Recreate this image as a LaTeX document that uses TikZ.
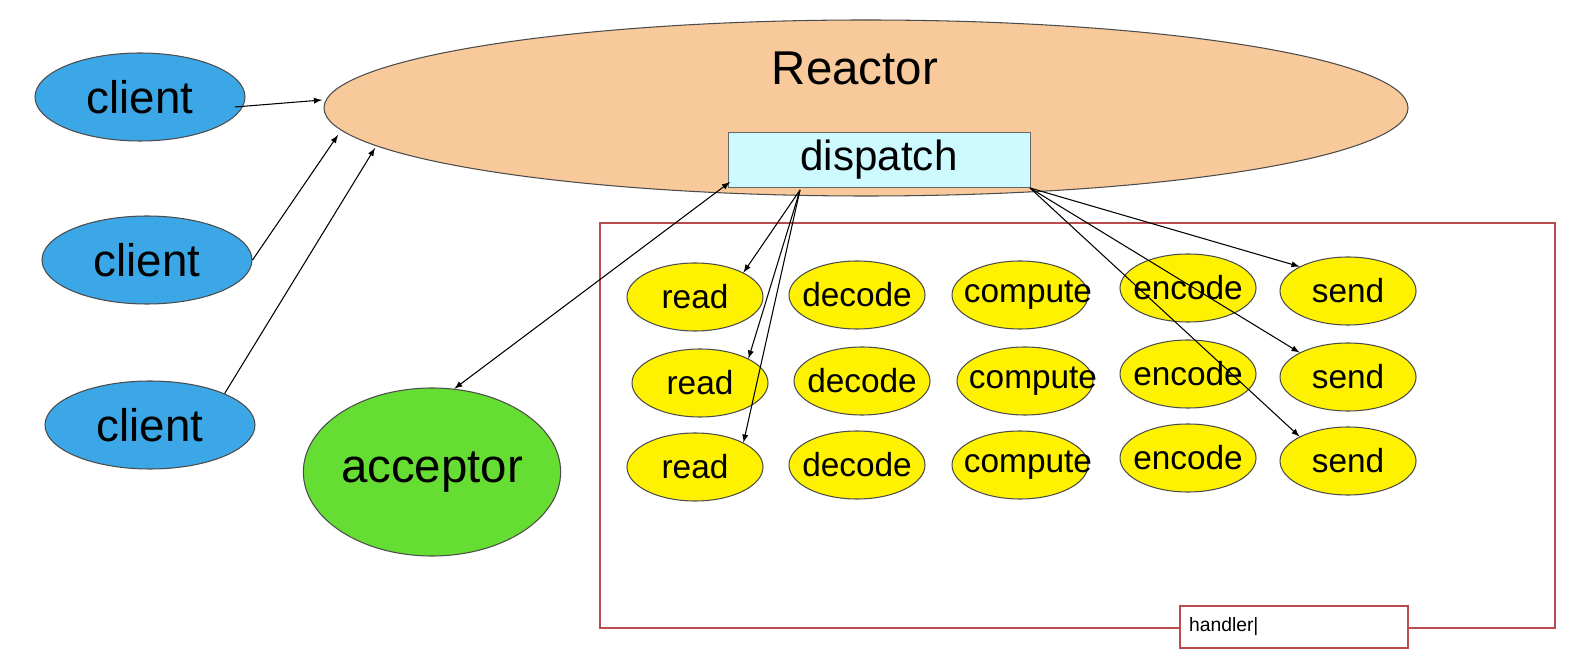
\documentclass[tikz,border=0pt]{standalone}
\usepackage{fontspec}
\setmainfont{Liberation Sans}
\usetikzlibrary{shapes.geometric}
\definecolor{cblue}{HTML}{3BA7E6}
\definecolor{agreen}{HTML}{66DD33}
\definecolor{dcyan}{HTML}{CCFAFF}
\definecolor{rpeach}{HTML}{F7C99B}
\begin{document}
\begin{tikzpicture}[x=0.02cm,y=-0.02cm,
  ell/.style={ellipse,draw=black!70,line width=0.6pt,inner sep=0pt},
  yel/.style={ell,fill=yellow,minimum width=136*0.02cm,minimum height=68*0.02cm},
  ylab/.style={font=\fontsize{19}{21}\selectfont},
  arr/.style={-latex,line width=0.6pt}]
\useasboundingbox (0,0) rectangle (1574,668);
\node[ell,fill=rpeach,minimum width=1084*0.02cm,minimum height=176*0.02cm] (reactor) at (866,108) {};
\node[font=\fontsize{27}{29}\selectfont] (rt) at (855,68) {Reactor};
\node[draw=black!60,fill=dcyan,minimum width=302*0.02cm,minimum height=55*0.02cm,font=\fontsize{24}{26}\selectfont] (disp) at (879,160) {dispatch};
\foreach \n/\x/\yy in {c1/140/97,c2/147/260,c3/150/425}
  \node[ell,fill=cblue,minimum width=210*0.02cm,minimum height=88*0.02cm,font=\fontsize{26}{28}\selectfont] (\n) at (\x,\yy) {client};
\node[ell,fill=agreen,minimum width=252*0.02cm,minimum height=168*0.02cm,font=\fontsize{27}{29}\selectfont] (acc) at (432,472) {acceptor};
\draw[red!60!black!70,line width=1pt] (600,223) rectangle (1555,628);
\node[draw=red!60!black!70,line width=1pt,fill=white,minimum width=228*0.02cm,minimum height=42*0.02cm,font=\fontsize{11}{13}\selectfont,text width=210*0.02cm,align=left] (hd) at (1294,627) {handler|};
\foreach \r/\yy/\dy in {1/297/0,2/383/5,3/467/0}{
  \node[yel] (rd\r) at (695+\dy,\yy) {};
  \node[ylab] (rdt\r) at (rd\r) {read};
  \node[yel] (de\r) at (857+\dy,\yy-2) {};
  \node[ylab] (det\r) at (de\r) {decode};
  \node[yel] (co\r) at (1020+\dy,\yy-2) {};
  \node[ylab] (cot\r) at ([xshift=8*0.02cm]co\r) {compute};
  \node[yel] (en\r) at (1188,\yy-9) {};
  \node[ylab] (ent\r) at (en\r) {encode};
  \node[yel] (se\r) at (1348,\yy-6) {};
  \node[ylab] (set\r) at (se\r) {send};
}
\coordinate (s1) at (235,107);
\coordinate (t1) at (322,100);
\coordinate (t2) at (338,135);
\coordinate (t3) at (375,148);
\draw[arr] (s1) -- (t1);
\draw[arr] (c2.east) -- (t2);
\draw[arr] (c3.north east) -- (t3);
\coordinate (da) at (730,182);
\draw[latex-latex,line width=0.6pt] (da) -- (acc.75);
\coordinate (d1) at (800,190);
\coordinate (d2) at (1030,188);
\draw[arr] (d1) -- (rd1.north east);
\draw[arr] (d1) -- (rd2.north east);
\draw[arr] (d1) -- (rd3.north east);
\draw[arr] (d2) -- (se1.north west);
\draw[arr] (d2) -- (se2.north west);
\draw[arr] (d2) -- (se3.north west);
\end{tikzpicture}
\end{document}
